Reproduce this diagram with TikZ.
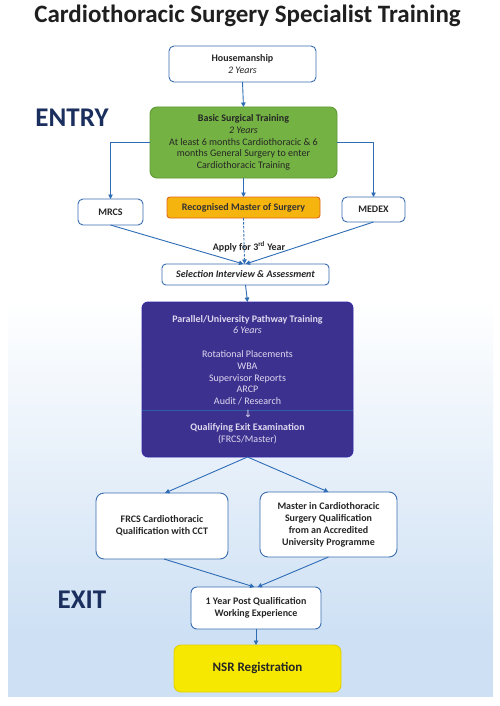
\documentclass[tikz,border=0pt]{standalone}
\usepackage{fontspec}
\setmainfont{Carlito}
\newfontfamily\arrowfont{DejaVu Sans}
\usetikzlibrary{arrows.meta}
\definecolor{boxblue}{HTML}{3A6EB0}
\definecolor{arrblue}{HTML}{2E6CB5}
\definecolor{bgblue}{HTML}{CDE0F4}
\definecolor{greenf}{HTML}{74B243}
\definecolor{greend}{HTML}{5E9A35}
\definecolor{orangef}{HTML}{F6B40E}
\definecolor{oranged}{HTML}{E0661B}
\definecolor{purplef}{HTML}{3D3190}
\definecolor{purplet}{HTML}{DDD9EF}
\definecolor{sepblue}{HTML}{2F5DA8}
\definecolor{yellowf}{HTML}{F6E800}
\definecolor{yellowd}{HTML}{E2CF00}
\definecolor{navy}{HTML}{1B2F5E}
\begin{document}
\begin{tikzpicture}[x=1pt,y=-1pt,
  every node/.style={inner sep=0pt, outer sep=0pt},
  wbox/.style={draw=boxblue, line width=0.9pt, rounded corners=5pt, fill=white, align=center, font=\fontsize{10}{12}\selectfont\bfseries, text=black!85},
  arr/.style={draw=arrblue, line width=0.9pt, -{Triangle[width=4.5pt,length=4.5pt]}},
  big/.style={font=\fontsize{27}{30}\selectfont\bfseries, text=navy},
  ptext/.style={text=purplet, align=center, font=\fontsize{10}{11.8}\selectfont}
]
\useasboundingbox (0,0) rectangle (500,706);
\fill[white] (0,0) rectangle (500,706);
\fill[bgblue] (8,639) rectangle (493,697);
\shade[top color=white, bottom color=bgblue, shading angle=0] (8,300) rectangle (493,640);

\node[font=\fontsize{25}{28}\selectfont\bfseries, text=black!88] (title) at (247.5,16) {Cardiothoracic Surgery Specialist Training};

\node[big] (entry) at (72,118) {ENTRY};
\node[big] (exit) at (82,600) {EXIT};

\node[wbox, minimum width=147, minimum height=36] (house) at (242.5,64) {Housemanship\\\textmd{\itshape 2 Years}};

\node[draw=greend, fill=greenf, line width=0.9pt, rounded corners=7pt, minimum width=187, minimum height=71, align=center, font=\fontsize{10}{11.8}\selectfont, text=black!85] (bst) at (243.5,142.5)
  {\textbf{Basic Surgical Training}\\\textit{2 Years}\\At least 6 months Cardiothoracic \& 6\\months General Surgery to enter\\Cardiothoracic Training};

\node[wbox, minimum width=65, minimum height=26] (mrcs) at (110.5,212) {MRCS};
\node[draw=oranged, fill=orangef, line width=0.9pt, rounded corners=3pt, minimum width=153, minimum height=21, font=\fontsize{10}{12}\selectfont\bfseries, text=black!80] (rms) at (243.5,207.5) {Recognised Master of Surgery};
\node[wbox, minimum width=63, minimum height=25] (medex) at (373.5,209.5) {MEDEX};

\node[wbox, rounded corners=4pt, minimum width=167, minimum height=21, font=\fontsize{10}{12}\selectfont\bfseries\itshape] (sel) at (245.5,274.5) {Selection Interview \& Assessment};

\node[draw=purplef!80!blue, fill=purplef, line width=0.8pt, rounded corners=6pt, minimum width=211, minimum height=155] (ppt) at (247.5,379.5) {};
\draw[sepblue, line width=1pt] (ppt.west |- 0,410) -- (ppt.east |- 0,410);
\node[ptext, anchor=north] (pptop) at (247.5,315) {\textbf{Parallel/University Pathway Training}\\\textit{6 Years}\\[11.8pt]Rotational Placements\\WBA\\Supervisor Reports\\ARCP\\Audit / Research};
\node[text=purplet, font=\arrowfont\fontsize{10}{11}\selectfont] (pdown) at (248,414) {↓};
\node[ptext] (pbot) at (247.5,434) {\textbf{Qualifying Exit Examination}\\(FRCS/Master)};

\node[wbox, rounded corners=8pt, minimum width=132, minimum height=66] (frcs) at (162,526) {FRCS Cardiothoracic\\Qualification with CCT};
\node[wbox, rounded corners=8pt, minimum width=137, minimum height=65] (mast) at (328.5,524.5) {Master in Cardiothoracic\\Surgery Qualification\\from an Accredited\\University Programme};

\node[wbox, rounded corners=6pt, minimum width=130, minimum height=42] (year) at (256,608) {1 Year Post Qualification\\Working Experience};

\node[draw=yellowd, fill=yellowf, line width=0.9pt, rounded corners=7pt, minimum width=167, minimum height=47, font=\fontsize{13}{15}\selectfont\bfseries, text=black!85] (nsr) at (257.5,668.5) {NSR Registration};

% connectors
\draw[arr] (house.south) -- (bst.north);
\draw[arr] (bst.west) -| (mrcs.north);
\draw[arr] (bst.east) -| (medex.north);
\draw[arr] (bst.south) -- (rms.north);
\draw[arr] (mrcs.south) -- ([xshift=-2pt]sel.north);
\draw[arr] (medex.south) -- ([xshift=0pt]sel.north);
\draw[arr, dashed, dash pattern=on 2.5pt off 1.5pt] (rms.south) -- ([xshift=-1pt]sel.north);
\node[font=\fontsize{10}{12}\selectfont\bfseries, text=black!85] (apply) at (249,247) {Apply for 3\textsuperscript{rd} Year};
\draw[arr] (sel.south) -- (ppt.north);
\draw[arr] (ppt.south) -- ([xshift=3pt]frcs.north);
\draw[arr] (ppt.south) -- (mast.north);
\draw[arr] ([xshift=2pt]frcs.south) -- ([xshift=-1.5pt]year.north);
\draw[arr] (mast.south) -- ([xshift=1.5pt]year.north);
\draw[arr] (year.south) -- (year.south |- nsr.north);
\end{tikzpicture}
\end{document}
